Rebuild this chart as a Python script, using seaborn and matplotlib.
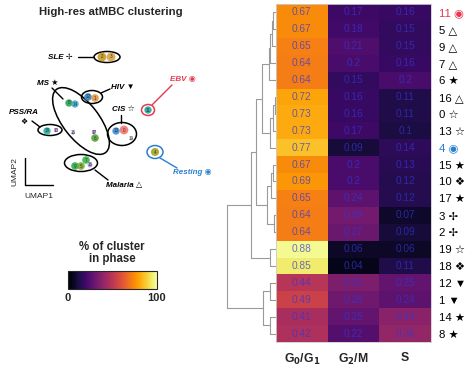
import numpy as np
import pandas as pd
import matplotlib.pyplot as plt
from matplotlib.patches import Ellipse
import seaborn as sns

sns.set_style("white")
plt.rcParams['font.family'] = ['Liberation Sans', 'DejaVu Sans']

# --- heatmap data (rows in dendrogram order) ---
row_clusters = ['11', '5', '9', '7', '6', '16', '0', '13', '4', '15',
                '10', '17', '3', '2', '19', '18', '12', '1', '14', '8']
row_symbols = ['◉', '△', '△', '△', '★', '△', '☆', '☆', '◉', '★',
               '❖', '★', '✢', '✢', '☆', '❖', '▼', '▼', '★', '★']
phases = ['G0/G1', 'G2/M', 'S']
g0g1 = [0.67, 0.67, 0.65, 0.64, 0.64, 0.72, 0.73, 0.73, 0.77, 0.67,
        0.69, 0.65, 0.64, 0.64, 0.88, 0.85, 0.44, 0.49, 0.41, 0.42]
g2m = [0.17, 0.18, 0.21, 0.2, 0.15, 0.16, 0.16, 0.17, 0.09, 0.2,
       0.2, 0.24, 0.29, 0.27, 0.06, 0.04, 0.31, 0.28, 0.25, 0.22]
s_phase = [0.16, 0.15, 0.15, 0.16, 0.2, 0.11, 0.11, 0.1, 0.14, 0.13,
           0.12, 0.12, 0.07, 0.09, 0.06, 0.11, 0.25, 0.24, 0.34, 0.36]

# linkage (leaf index = row position): left, right, merge height
link_left = [0, 20, 21, 22, 5, 24, 25, 23, 9, 28, 12, 29, 27, 14, 32, 16, 18, 35, 34]
link_right = [1, 2, 3, 4, 6, 7, 8, 26, 10, 11, 13, 30, 31, 15, 33, 17, 19, 36, 37]
link_height = [2.7, 4.3, 6, 7.5, 1.5, 3, 6, 14, 3, 5.5, 2.5, 9, 20, 6, 25, 6, 6, 13, 49]

# --- UMAP panel data ---
umap_cluster = ['2', '3', '12', '1', '11', '13', '0', '19', '8', '14', '15', '17', '6',
                '18', '10', '4', '9', '5', '7', '16']
umap_x = [102, 111, 88, 95, 148, 116, 124, 131, 69, 75, 73, 94, 95, 47, 56, 155, 75, 81, 86, 90]
umap_y = [57, 57, 97, 98, 110, 131, 130, 139, 103, 104, 133, 132, 138, 131, 130, 152, 166, 166, 160, 165]
umap_color = ['#c99a1c', '#d9a441', '#2e86c1', '#e8953a', '#1fa99a', '#3c8fd8', '#f2776f',
              '#d0d0d0', '#2da44e', '#3fb0c8', '#b79be8', '#b58ae0', '#55a630', '#22b5a5',
              '#c79be0', '#a4a31e', '#2fae50', '#7cae2a', '#39b54a', '#b79be8']
umap_size = [40, 40, 30, 30, 28, 28, 40, 6, 28, 28, 6, 10, 30, 28, 10, 34, 30, 30, 30, 12]

groups = ['SLE ✢', 'MS ★', 'HIV ▼', 'EBV ◉', 'PSS/RA\n❖', 'CIS ☆', 'Resting ◉', 'Malaria △']
group_color = ['black', 'black', 'black', '#e8384f', 'black', 'black', '#2b7fd0', 'black']

df = pd.DataFrame({'G0/G1': g0g1, 'G2/M': g2m, 'S': s_phase},
                  index=[f'{c} {s}' for c, s in zip(row_clusters, row_symbols)])

fig = plt.figure(figsize=(4.74, 3.70), dpi=100)
W, H = 474, 370

# left panel in pixel coordinates
ax_l = fig.add_axes([0, 0, 1, 1])
ax_l.set_xlim(0, W)
ax_l.set_ylim(H, 0)
ax_l.axis('off')

ax_l.text(111, 12, 'High-res atMBC clustering', ha='center', va='center',
          fontsize=8.2, fontweight='bold')

ax_l.scatter(umap_x, umap_y, s=umap_size, c=umap_color, edgecolors='none', alpha=0.9, zorder=3)
for cl, x, y in zip(umap_cluster, umap_x, umap_y):
    ax_l.text(x, y, cl, fontsize=3.3, ha='center', va='center', color='#333355', zorder=4)

# group ellipses, labels and leader lines
ell = [(107, 57, 26, 11, 0), (81, 121, 80, 36, 52), (92, 97, 21, 13, 0), (148, 110, 13, 11, 0),
       (50, 130, 24, 11, 0), (122, 134, 29, 23, 0), (155, 152, 16, 13, 0), (81, 163, 33, 17, 0)]
lab = [(48, 57, 'left'), (37, 83, 'left'), (111, 87, 'left'), (170, 80, 'left'),
       (24, 117, 'center'), (112, 110, 'left'), (173, 172, 'left'), (106, 185, 'left')]
lines = [(78, 57, 94, 57), (52, 88, 63, 99), (110, 89, 101, 93), (172, 85, 152, 105),
         (32, 121, 40, 127), (121, 115, 121, 123), (160, 158, 177, 168), (95, 170, 108, 180)]
for g, col, e, lb, ln in zip(groups, group_color, ell, lab, lines):
    ax_l.add_patch(Ellipse((e[0], e[1]), e[2], e[3], angle=e[4], fill=False,
                           edgecolor=col, lw=1.1, zorder=2))
    ax_l.text(lb[0], lb[1], g, ha=lb[2], va='center', fontsize=5.8, fontweight='bold',
              fontstyle='italic', color=col, linespacing=1.6)
    ax_l.plot([ln[0], ln[2]], [ln[1], ln[3]], color=col, lw=1)

# UMAP axis arrows
ax_l.plot([25, 25, 53], [158, 185, 185], color='black', lw=1)
ax_l.text(15, 172, 'UMAP2', rotation=90, ha='center', va='center', fontsize=6)
ax_l.text(39, 197, 'UMAP1', ha='center', va='center', fontsize=6)

ax_l.text(112, 253, '% of cluster\nin phase', ha='center', va='center',
          fontsize=8.3, fontweight='bold', linespacing=1.1)

# heatmap
ax_h = fig.add_axes([276 / W, 28 / H, 155 / W, 338 / H])
sns.heatmap(df, ax=ax_h, cmap='inferno', vmin=0, vmax=0.9, cbar=False,
            annot=True, fmt='g',
            annot_kws={'fontsize': 7.3, 'color': '#3535d0', 'alpha': 0.7})
ax_h.yaxis.tick_right()
ax_h.set_yticklabels(df.index, rotation=0, fontsize=8.2)
for t, c in zip(ax_h.get_yticklabels(), row_clusters):
    t.set_color({'11': '#e8384f', '4': '#2b7fd0'}.get(c, 'black'))
    t.set_horizontalalignment('left')
ax_h.set_xticklabels([r'G$_\mathbf{0}$/G$_\mathbf{1}$', r'G$_\mathbf{2}$/M', 'S'],
                     fontsize=8.8, fontweight='bold', rotation=0)
ax_h.tick_params(length=0, pad=6)
ax_h.tick_params(axis='x', pad=7)
for sp in ax_h.spines.values():
    sp.set_visible(True)
    sp.set_color('#cccccc')
    sp.set_linewidth(0.6)

# dendrogram
ax_d = fig.add_axes([220 / W, 28 / H, 56 / W, 338 / H])
ax_d.set_xlim(56, 0)
ax_d.set_ylim(len(row_clusters), 0)
ax_d.axis('off')
node_y = {i: i + 0.5 for i in range(len(row_clusters))}
node_h = {i: 0 for i in range(len(row_clusters))}
for k, (a, b, h) in enumerate(zip(link_left, link_right, link_height)):
    nid = len(row_clusters) + k
    ax_d.plot([node_h[a], h, h, node_h[b]], [node_y[a], node_y[a], node_y[b], node_y[b]],
              color='#9a9a9a', lw=0.8)
    node_y[nid] = (node_y[a] + node_y[b]) / 2
    node_h[nid] = h

# colorbar
cax = fig.add_axes([68 / W, (H - 289) / H, 89 / W, 18 / H])
cb = fig.colorbar(ax_h.collections[0], cax=cax, orientation='horizontal')
cb.set_ticks([0, 0.9])
cb.set_ticklabels(['0', '100'])
cax.tick_params(length=0, pad=3)
for t in cax.get_xticklabels():
    t.set_fontweight('bold')
    t.set_fontsize(8)
cb.outline.set_linewidth(0.8)

fig.savefig('out.png', dpi=100)
